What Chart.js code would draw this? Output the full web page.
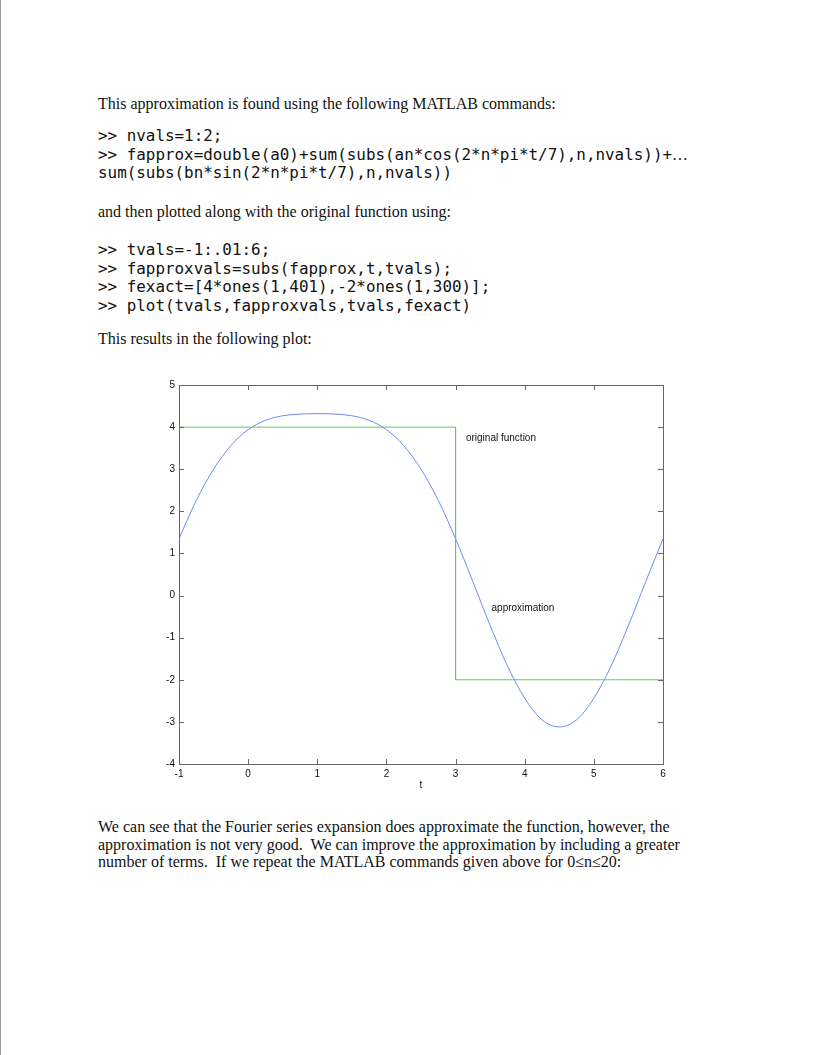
<!DOCTYPE html>
<html>
<head>
<meta charset="utf-8">
<script src="https://cdn.jsdelivr.net/npm/chart.js@4.4.1/dist/chart.umd.min.js"></script>
<style>
  html, body { margin: 0; padding: 0; background: #fff; }
  #page { position: relative; width: 817px; height: 1055px; overflow: hidden; border-left: 1px solid #999; box-sizing: border-box; }
  .txt { position: absolute; left: 97px; font-family: "Liberation Serif", "Times New Roman", serif; font-size: 16px; line-height: 17.5px; color: #111; white-space: nowrap; }
  .code { position: absolute; left: 97px; font-family: "DejaVu Sans Mono", "Liberation Mono", monospace; font-size: 15.9px; line-height: 18.5px; color: #111; white-space: nowrap; }
  .ell { font-family: "Liberation Serif", serif; }
  #plot { position: absolute; left: 150px; top: 375px; }
</style>
</head>
<body>
<div id="page">
  <div class="txt" style="top:95px">This approximation is found using the following MATLAB commands:</div>
  <div class="code" style="top:127px">&gt;&gt; nvals=1:2;<br>&gt;&gt; fapprox=double(a0)+sum(subs(an*cos(2*n*pi*t/7),n,nvals))+<span class="ell">…</span><br>sum(subs(bn*sin(2*n*pi*t/7),n,nvals))</div>
  <div class="txt" style="top:203px">and then plotted along with the original function using:</div>
  <div class="code" style="top:241px">&gt;&gt; tvals=-1:.01:6;<br>&gt;&gt; fapproxvals=subs(fapprox,t,tvals);<br>&gt;&gt; fexact=[4*ones(1,401),-2*ones(1,300)];<br>&gt;&gt; plot(tvals,fapproxvals,tvals,fexact)</div>
  <div class="txt" style="top:330px">This results in the following plot:</div>
  <canvas id="plot" width="520" height="419"></canvas>
  <div class="txt" style="top:818px">We can see that the Fourier series expansion does approximate the function, however, the<br>approximation is not very good.&nbsp; We can improve the approximation by including a greater<br>number of terms.&nbsp; If we repeat the MATLAB commands given above for 0≤n≤20:</div>
</div>
<script>
// approximation curve, every 0.25 in t
const tVals = [-1, -0.75, -0.5, -0.25, 0, 0.25, 0.5, 0.75, 1, 1.25, 1.5, 1.75, 2, 2.25, 2.5, 2.75,
               3, 3.25, 3.5, 3.75, 4, 4.25, 4.5, 4.75, 5, 5.25, 5.5, 5.75, 6];
const approxVals = [1.35, 2.26, 3.00, 3.56, 3.94, 4.16, 4.27, 4.31, 4.32, 4.31, 4.27, 4.16, 3.94, 3.56, 3.00, 2.26,
                    1.35, 0.33, -0.71, -1.67, -2.44, -2.95, -3.12, -2.95, -2.44, -1.67, -0.71, 0.33, 1.35];

// original (step) function
const exactT = [-1, 3, 3, 6];
const exactVals = [4, 4, -2, -2];

const xTicks = [-1, 0, 1, 2, 3, 4, 5, 6];
const yTicks = [-4, -3, -2, -1, 0, 1, 2, 3, 4, 5];

const notes = [
    { text: 'original function', t: 3.15, y: 3.74 },
    { text: 'approximation', t: 3.52, y: -0.31 }
];

const axisColor = '#666';
const font = { family: '"Liberation Sans", Arial, sans-serif', size: 10 };

// box, inside tick marks and text labels, matlab style
const boxPlugin = {
    id: 'box',
    afterDatasetsDraw(chart) {
        const { ctx, chartArea: a, scales: { x, y } } = chart;
        ctx.save();
        ctx.strokeStyle = axisColor;
        ctx.lineWidth = 1;
        ctx.strokeRect(Math.round(a.left) + 0.5, Math.round(a.top) + 0.5, Math.round(a.right - a.left), Math.round(a.bottom - a.top));
        ctx.beginPath();
        const len = 5;
        xTicks.forEach(v => {
            const px = Math.round(x.getPixelForValue(v)) + 0.5;
            ctx.moveTo(px, a.bottom); ctx.lineTo(px, a.bottom - len);
            ctx.moveTo(px, a.top); ctx.lineTo(px, a.top + len);
        });
        yTicks.forEach(v => {
            const py = Math.round(y.getPixelForValue(v)) + 0.5;
            ctx.moveTo(a.left, py); ctx.lineTo(a.left + len, py);
            ctx.moveTo(a.right, py); ctx.lineTo(a.right - len, py);
        });
        ctx.stroke();

        ctx.fillStyle = '#111';
        ctx.font = font.size + 'px ' + font.family;
        ctx.textAlign = 'left';
        ctx.textBaseline = 'middle';
        notes.forEach(n => ctx.fillText(n.text, x.getPixelForValue(n.t), y.getPixelForValue(n.y)));
        ctx.restore();
    }
};

new Chart(document.getElementById('plot'), {
    type: 'scatter',
    data: {
        datasets: [
            {
                label: 'approximation',
                data: tVals.map((t, i) => ({ x: t, y: approxVals[i] })),
                showLine: true,
                borderColor: '#7088f8',
                borderWidth: 1,
                pointRadius: 0,
                cubicInterpolationMode: 'monotone',
                order: 2
            },
            {
                label: 'original function',
                data: exactT.map((t, i) => ({ x: t, y: exactVals[i] })),
                showLine: true,
                borderColor: '#6cc26c',
                borderWidth: 1,
                pointRadius: 0,
                order: 1
            }
        ]
    },
    options: {
        responsive: false,
        animation: false,
        layout: { padding: { top: 8, right: 8, left: 0, bottom: 0 } },
        plugins: {
            legend: { display: false },
            tooltip: { enabled: false }
        },
        scales: {
            x: {
                type: 'linear',
                min: -1,
                max: 6,
                grid: { display: false, drawTicks: false },
                border: { display: false },
                afterFit(scale) { scale.height = 30; },
                ticks: { stepSize: 1, autoSkip: false, maxRotation: 0, padding: 4, color: '#111', font: font },
                title: { display: true, text: 't', color: '#111', font: font, padding: { top: 2, bottom: 3 } }
            },
            y: {
                type: 'linear',
                min: -4,
                max: 5,
                grid: { display: false, drawTicks: false },
                border: { display: false },
                afterFit(scale) { scale.width = 28; },
                ticks: { stepSize: 1, autoSkip: false, padding: 4, color: '#111', font: font }
            }
        }
    },
    plugins: [boxPlugin]
});
</script>
</body>
</html>
